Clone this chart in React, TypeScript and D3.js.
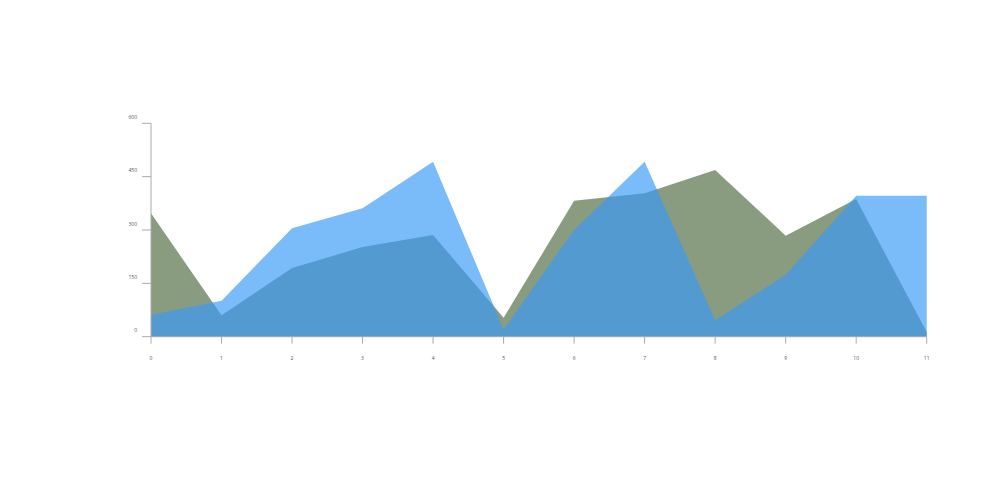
import React, { useEffect, useRef } from "react";
import * as d3 from "d3";

const categories: number[] = [0, 1, 2, 3, 4, 5, 6, 7, 8, 9, 10, 11];
const greenValues: number[] = [347, 60, 193, 252, 286, 53, 382, 403, 469, 284, 387, 13];
const blueValues: number[] = [62, 101, 305, 361, 492, 20, 300, 492, 46, 174, 396, 396];
const yTicks: number[] = [0, 150, 300, 450, 600];

const App: React.FC = () => {
  const width = 1000;
  const height = 500;
  const svgRef = useRef<SVGSVGElement>(null);

  useEffect(() => {
    const svg = d3.select(svgRef.current);
    if (svg.empty()) return;
    svg.selectAll("*").remove();

    const x = d3.scaleLinear().domain([0, 11]).range([151, 926.7]);
    const y = d3.scaleLinear().domain([0, 600]).range([336.7, 123.3]);

    const area = d3
      .area<number>()
      .x((_, i) => x(categories[i]))
      .y0(y(0))
      .y1((d) => y(d));

    svg
      .append("path")
      .datum(greenValues)
      .attr("d", area)
      .attr("fill", "#8a9c80");

    svg
      .append("path")
      .datum(blueValues)
      .attr("d", area)
      .attr("fill", "rgb(57,154,248)")
      .attr("fill-opacity", 0.67);

    // y axis
    const yAxis = svg.append("g").attr("transform", `translate(${x(0)},0)`);
    yAxis
      .append("line")
      .attr("y1", y(600))
      .attr("y2", y(0))
      .attr("stroke", "#aaa")
      .attr("stroke-width", 1);
    yAxis
      .selectAll(".ytick")
      .data(yTicks)
      .enter()
      .append("line")
      .attr("x1", -9)
      .attr("x2", 0)
      .attr("y1", (d) => y(d))
      .attr("y2", (d) => y(d))
      .attr("stroke", "#aaa");
    yAxis
      .selectAll(".ylabel")
      .data(yTicks)
      .enter()
      .append("text")
      .attr("x", -14)
      .attr("y", (d) => y(d) - 6)
      .attr("text-anchor", "end")
      .attr("dy", "0.35em")
      .style("font-family", "Open Sans, sans-serif")
      .style("font-size", "5px")
      .style("fill", "#555")
      .text((d) => d);

    // x axis
    const xAxis = svg.append("g").attr("transform", `translate(0,${y(0)})`);
    xAxis
      .append("line")
      .attr("x1", x(0))
      .attr("x2", x(11))
      .attr("stroke", "#aaa");
    xAxis
      .selectAll(".xtick")
      .data(categories)
      .enter()
      .append("line")
      .attr("x1", (d) => x(d))
      .attr("x2", (d) => x(d))
      .attr("y1", 0)
      .attr("y2", 7)
      .attr("stroke", "#aaa");
    xAxis
      .selectAll(".xlabel")
      .data(categories)
      .enter()
      .append("text")
      .attr("x", (d) => x(d))
      .attr("y", 21.5)
      .attr("text-anchor", "middle")
      .attr("dy", "0.35em")
      .style("font-family", "Open Sans, sans-serif")
      .style("font-size", "5px")
      .style("fill", "#555")
      .text((d) => d);
  }, []);

  return (
    <div style={{ position: "absolute", left: 0, top: 0 }}>
      <svg ref={svgRef} width={width} height={height} style={{ display: "block", background: "#fff" }}></svg>
    </div>
  );
};

export default App;
